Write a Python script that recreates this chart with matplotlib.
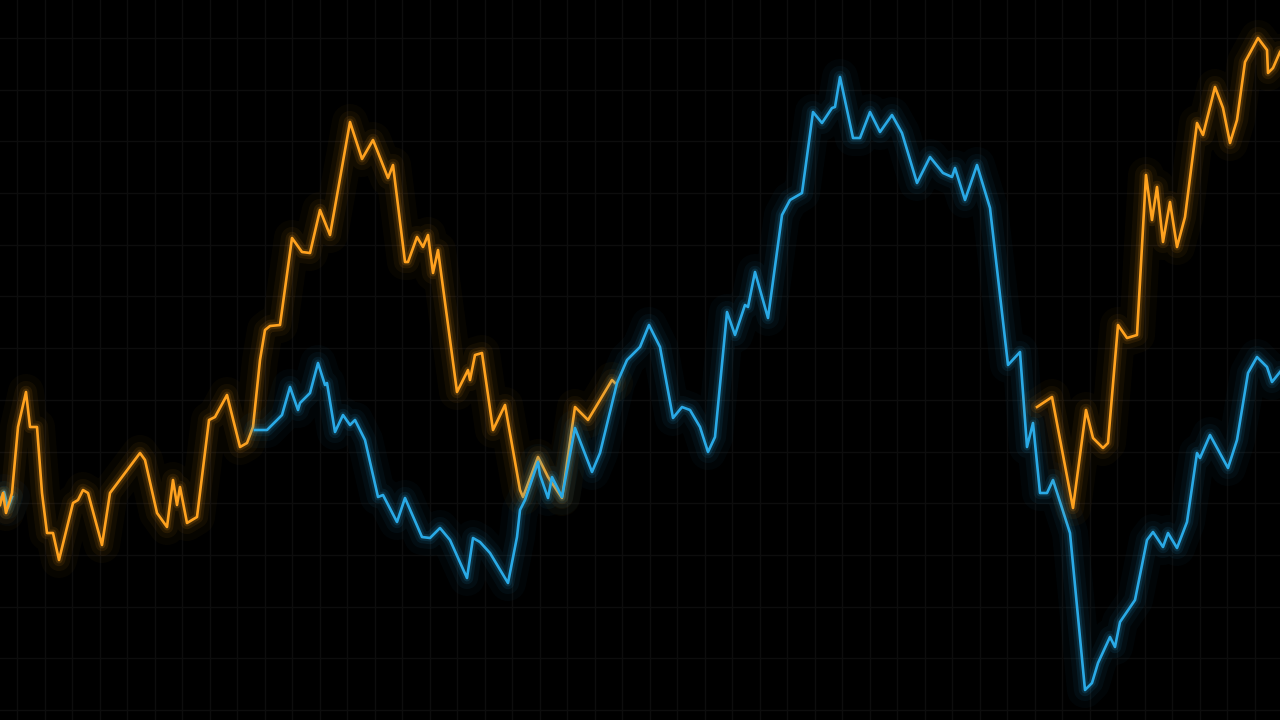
import matplotlib.pyplot as plt
import numpy as np

# values (x = time step, y = level, 0 at bottom, 720 at top)
orange_a_x = [0, 3, 6, 12, 18, 26, 30, 37, 42, 47, 53, 59, 73, 78, 83, 88, 102, 110, 140, 145,
              157, 167, 173, 177, 180, 187, 197, 209, 215, 227, 240, 247, 253, 260, 265, 270, 280,
              292, 302, 310, 320, 330, 350, 362, 373, 377, 388, 393, 405, 408, 417, 423, 428, 433,
              438, 457, 468, 470, 475, 482, 493, 505, 520, 523, 538, 548, 562, 575, 588, 600, 612, 615]
orange_a_px = [505, 493, 513, 493, 427, 392, 427, 427, 493, 533, 533, 560, 503, 500, 490, 493, 545, 493, 453, 460,
               513, 527, 480, 505, 487, 523, 517, 420, 417, 395, 447, 443, 427, 360, 330, 326, 325,
               238, 252, 253, 210, 235, 122, 159, 140, 150, 178, 165, 262, 262, 237, 247, 235, 273,
               250, 392, 370, 380, 355, 353, 430, 405, 490, 497, 457, 477, 498, 407, 420, 400, 380, 383]

orange_b_x = [1037, 1052, 1073, 1086, 1093, 1103, 1108, 1118, 1127, 1137, 1146, 1152, 1157, 1163, 1170,
              1177, 1185, 1197, 1203, 1215, 1223, 1230, 1237, 1245, 1258, 1267, 1268, 1273, 1280]
orange_b_px = [407, 397, 508, 410, 438, 448, 443, 325, 338, 335, 175, 220, 187, 242, 202,
               247, 217, 123, 135, 87, 108, 143, 120, 62, 38, 50, 73, 68, 52]

blue_a_x = [0, 4, 8, 12]
blue_a_px = [500, 492, 508, 497]

blue_b_x = [255, 267, 282, 290, 298, 300, 310, 318, 325, 327, 335, 343, 350, 355, 365, 378, 383, 397, 405,
            422, 430, 440, 450, 467, 473, 480, 490, 508, 517, 520, 525, 538, 540, 548, 552, 562, 575, 592,
            600, 617, 627, 640, 649, 660, 673, 682, 690, 700, 708, 715, 727, 735, 745, 748, 755, 768, 782,
            790, 802, 813, 822, 832, 835, 840, 853, 860, 870, 880, 892, 902, 917, 930, 943, 952, 955, 965,
            977, 990, 1008, 1020, 1027, 1033, 1040, 1047, 1053, 1070, 1085, 1092, 1098, 1110, 1115, 1120,
            1135, 1147, 1153, 1163, 1168, 1177, 1187, 1197, 1200, 1210, 1228, 1237, 1248, 1257, 1267, 1272, 1280]
blue_b_px = [430, 430, 415, 387, 410, 403, 393, 363, 385, 383, 432, 415, 425, 420, 440, 497, 495, 522, 498,
             537, 538, 528, 540, 578, 538, 542, 553, 583, 537, 510, 500, 462, 475, 498, 477, 497, 428, 472,
             453, 383, 360, 347, 325, 347, 418, 407, 410, 427, 452, 437, 312, 335, 305, 307, 272, 318, 215,
             200, 193, 112, 123, 108, 107, 77, 138, 138, 112, 132, 115, 133, 183, 157, 173, 177, 168, 200,
             165, 208, 365, 352, 447, 423, 493, 493, 480, 533, 690, 683, 663, 637, 647, 622,
             600, 540, 532, 547, 533, 548, 522, 453, 458, 435, 468, 440, 373, 357, 367, 382, 372]

ORANGE = '#FFA21F'
BLUE = '#2AAAE6'

fig = plt.figure(figsize=[12.8, 7.2], dpi=100, facecolor='black')
ax = fig.add_axes([0, 0, 1, 1])
ax.set_facecolor('black')
ax.set_xlim(0, 1280)
ax.set_ylim(0, 720)

# very faint grid
ax.set_xticks(np.arange(17, 1280, 27.5))
ax.set_yticks(np.arange(10, 720, 51.7))
ax.grid(True, color='#0d0d0d', linewidth=1.0)
ax.tick_params(length=0, labelbottom=False, labelleft=False)
for s in ax.spines.values():
    s.set_visible(False)


def glow_line(x, px, color):
    y = 720 - np.array(px)
    for lw, a in [(26, 0.03), (16, 0.05), (9, 0.09), (5, 0.15)]:
        ax.plot(x, y, color=color, linewidth=lw, alpha=a, solid_joinstyle='round',
                solid_capstyle='round')
    ax.plot(x, y, color=color, linewidth=1.9, solid_joinstyle='round')


glow_line(blue_a_x, blue_a_px, BLUE)
glow_line(orange_a_x, orange_a_px, ORANGE)
glow_line(blue_b_x, blue_b_px, BLUE)
glow_line(orange_b_x, orange_b_px, ORANGE)

fig.savefig('out.png', dpi=100, facecolor='black')
